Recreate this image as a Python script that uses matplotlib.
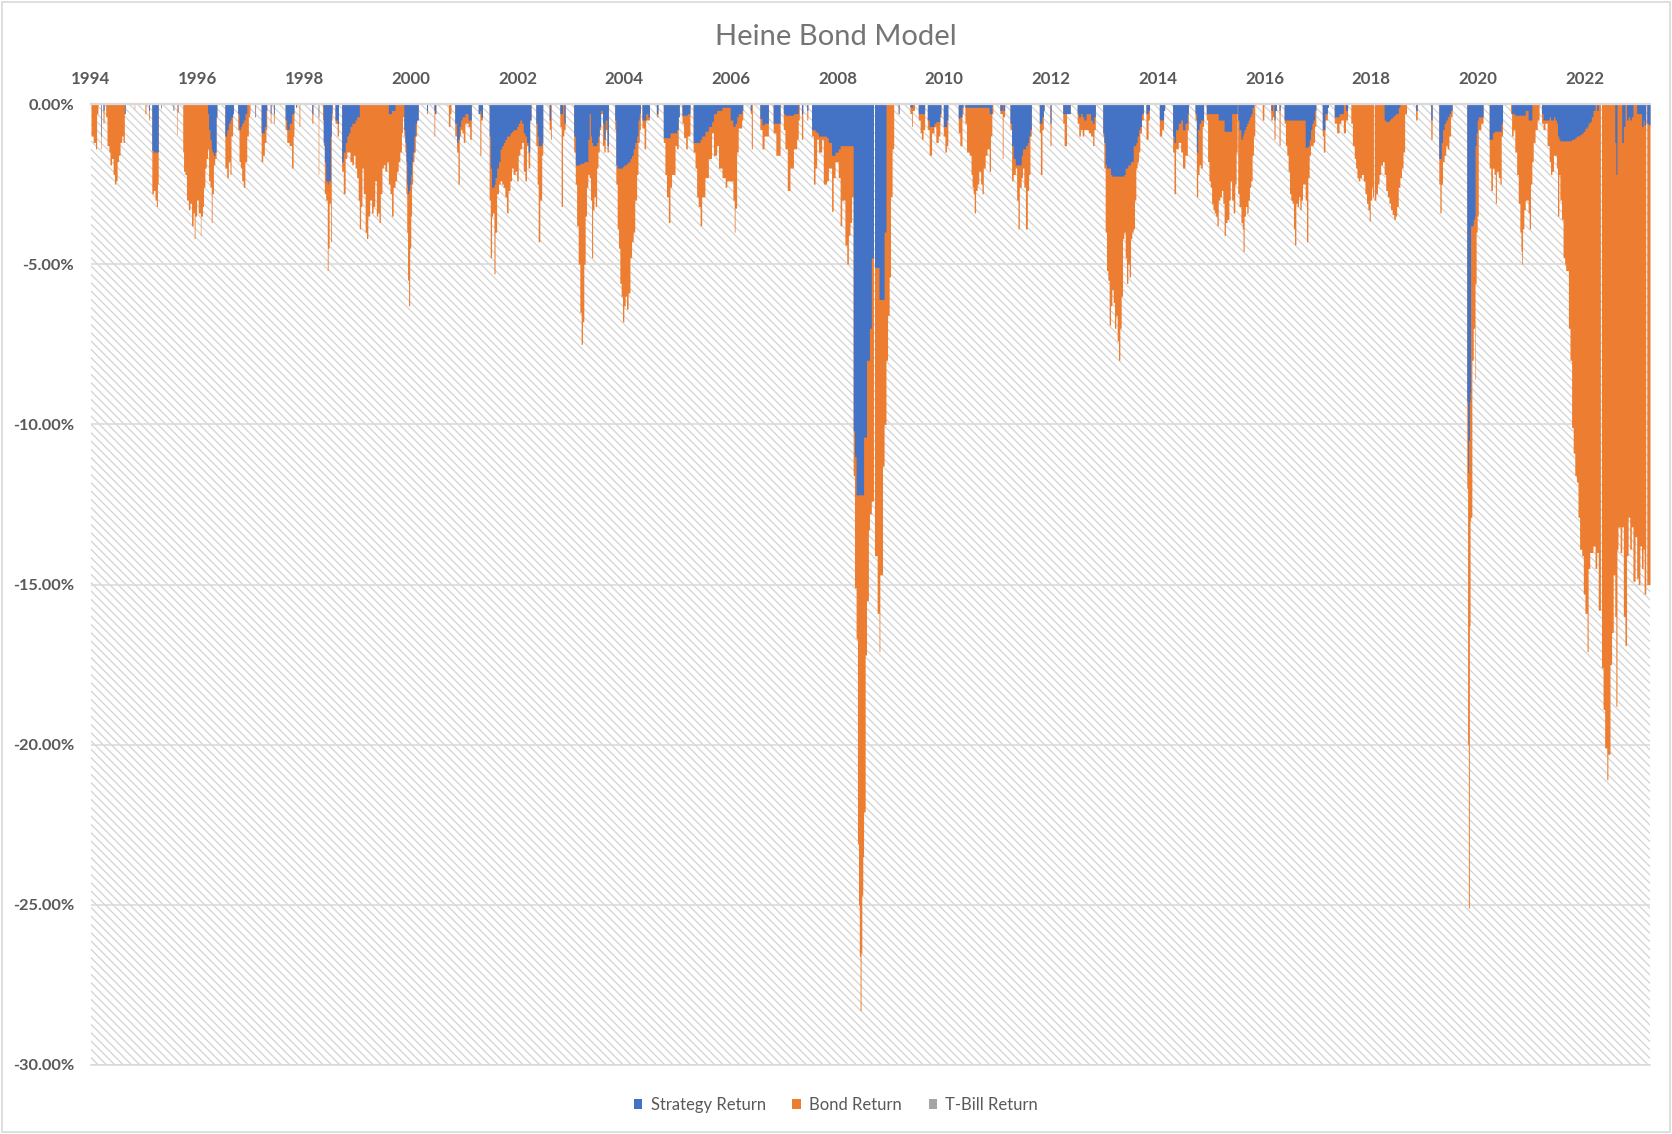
#!/usr/bin/env python3
"""Drawdown chart for the Heine Bond Model (strategy vs. bond vs. T-bill)."""

from __future__ import annotations

import matplotlib

matplotlib.use("Agg")

import matplotlib.pyplot as plt
import numpy as np
from matplotlib.patches import Patch, Rectangle
from matplotlib.ticker import FuncFormatter

# Drawdown depth in percent (positive numbers, plotted below zero),
# read off the reference chart. Rows of the three lists line up.
dates = [
    1994.000, 1994.040, 1994.085, 1994.105, 1994.130, 1994.185, 1994.195, 1994.225, 1994.245, 1994.275,
    1994.300, 1994.335, 1994.355, 1994.385, 1994.415, 1994.440, 1994.465, 1994.490, 1994.515, 1994.545,
    1994.575, 1994.600, 1994.625, 1994.640, 1994.810, 1994.820, 1995.010, 1995.030, 1995.080, 1995.095,
    1995.140, 1995.170, 1995.200, 1995.225, 1995.245, 1995.260, 1995.310, 1995.320, 1995.540, 1995.550,
    1995.610, 1995.620, 1995.630, 1995.720, 1995.735, 1995.760, 1995.790, 1995.825, 1995.855, 1995.885,
    1995.915, 1995.935, 1995.950, 1995.980, 1996.010, 1996.050, 1996.060, 1996.090, 1996.110, 1996.135,
    1996.160, 1996.185, 1996.205, 1996.230, 1996.255, 1996.270, 1996.295, 1996.320, 1996.345, 1996.360,
    1996.510, 1996.545, 1996.575, 1996.605, 1996.625, 1996.655, 1996.670, 1996.750, 1996.775, 1996.800,
    1996.825, 1996.855, 1996.885, 1996.920, 1996.950, 1996.970, 1996.980, 1996.990, 1997.075, 1997.085,
    1997.190, 1997.220, 1997.250, 1997.280, 1997.295, 1997.360, 1997.375, 1997.420, 1997.435, 1997.640,
    1997.670, 1997.715, 1997.760, 1997.790, 1997.805, 1997.835, 1997.850, 1997.900, 1997.915, 1998.140,
    1998.160, 1998.260, 1998.270, 1998.340, 1998.355, 1998.375, 1998.400, 1998.430, 1998.445, 1998.465,
    1998.490, 1998.505, 1998.520, 1998.575, 1998.615, 1998.640, 1998.700, 1998.730, 1998.765, 1998.795,
    1998.825, 1998.855, 1998.890, 1998.920, 1998.950, 1998.980, 1999.010, 1999.030, 1999.055, 1999.080,
    1999.105, 1999.140, 1999.165, 1999.190, 1999.225, 1999.260, 1999.290, 1999.320, 1999.350, 1999.375,
    1999.400, 1999.425, 1999.455, 1999.480, 1999.510, 1999.545, 1999.575, 1999.605, 1999.635, 1999.665,
    1999.700, 1999.730, 1999.760, 1999.790, 1999.820, 1999.840, 1999.865, 1999.885, 1999.905, 1999.920,
    1999.935, 1999.955, 1999.975, 1999.995, 2000.010, 2000.030, 2000.055, 2000.080, 2000.105, 2000.135,
    2000.290, 2000.310, 2000.430, 2000.445, 2000.465, 2000.700, 2000.730, 2000.750, 2000.820, 2000.855,
    2000.880, 2000.905, 2000.930, 2000.955, 2000.980, 2001.010, 2001.070, 2001.100, 2001.130, 2001.260,
    2001.290, 2001.310, 2001.340, 2001.465, 2001.485, 2001.510, 2001.530, 2001.555, 2001.575, 2001.605,
    2001.640, 2001.670, 2001.700, 2001.730, 2001.760, 2001.790, 2001.820, 2001.855, 2001.885, 2001.915,
    2001.950, 2001.980, 2002.010, 2002.040, 2002.075, 2002.105, 2002.135, 2002.165, 2002.195, 2002.225,
    2002.250, 2002.340, 2002.365, 2002.385, 2002.415, 2002.450, 2002.470, 2002.590, 2002.615, 2002.630,
    2002.790, 2002.815, 2002.840, 2002.865, 2002.890, 2003.050, 2003.080, 2003.105, 2003.135, 2003.165,
    2003.190, 2003.215, 2003.240, 2003.265, 2003.290, 2003.315, 2003.340, 2003.365, 2003.385, 2003.405,
    2003.430, 2003.455, 2003.480, 2003.505, 2003.530, 2003.555, 2003.590, 2003.615, 2003.640, 2003.675,
    2003.700, 2003.820, 2003.840, 2003.865, 2003.890, 2003.915, 2003.940, 2003.965, 2003.990, 2004.015,
    2004.040, 2004.070, 2004.105, 2004.135, 2004.165, 2004.195, 2004.230, 2004.255, 2004.280, 2004.300,
    2004.330, 2004.370, 2004.400, 2004.440, 2004.470, 2004.600, 2004.630, 2004.730, 2004.760, 2004.790,
    2004.825, 2004.855, 2004.885, 2004.950, 2004.980, 2005.010, 2005.030, 2005.080, 2005.110, 2005.150,
    2005.180, 2005.230, 2005.290, 2005.325, 2005.355, 2005.385, 2005.420, 2005.450, 2005.510, 2005.575,
    2005.635, 2005.670, 2005.730, 2005.765, 2005.830, 2005.890, 2005.920, 2005.985, 2006.035, 2006.060,
    2006.075, 2006.105, 2006.135, 2006.200, 2006.220, 2006.360, 2006.380, 2006.400, 2006.540, 2006.580,
    2006.620, 2006.700, 2006.790, 2006.840, 2006.920, 2006.980, 2007.010, 2007.055, 2007.105, 2007.170,
    2007.230, 2007.260, 2007.280, 2007.320, 2007.345, 2007.420, 2007.440, 2007.510, 2007.545, 2007.575,
    2007.605, 2007.640, 2007.700, 2007.730, 2007.790, 2007.825, 2007.885, 2007.915, 2007.950, 2008.010,
    2008.045, 2008.075, 2008.135, 2008.170, 2008.200, 2008.230, 2008.260, 2008.290, 2008.315, 2008.345,
    2008.370, 2008.390, 2008.405, 2008.420, 2008.438, 2008.452, 2008.470, 2008.485, 2008.515, 2008.540,
    2008.575, 2008.595, 2008.630, 2008.670, 2008.690, 2008.740, 2008.775, 2008.790, 2008.840, 2008.870,
    2008.905, 2008.935, 2008.965, 2008.990, 2009.020, 2009.050, 2009.135, 2009.150, 2009.354, 2009.385,
    2009.400, 2009.440, 2009.510, 2009.545, 2009.570, 2009.600, 2009.630, 2009.680, 2009.715, 2009.760,
    2009.805, 2009.840, 2009.885, 2009.915, 2009.935, 2009.980, 2010.010, 2010.040, 2010.065, 2010.260,
    2010.290, 2010.330, 2010.350, 2010.385, 2010.415, 2010.465, 2010.500, 2010.520, 2010.540, 2010.560,
    2010.585, 2010.615, 2010.645, 2010.680, 2010.705, 2010.730, 2010.765, 2010.800, 2010.840, 2010.865,
    2010.890, 2010.910, 2011.040, 2011.085, 2011.100, 2011.130, 2011.230, 2011.260, 2011.290, 2011.330,
    2011.355, 2011.380, 2011.405, 2011.440, 2011.465, 2011.490, 2011.520, 2011.555, 2011.580, 2011.605,
    2011.630, 2011.780, 2011.800, 2011.830, 2011.855, 2011.870, 2011.980, 2012.000, 2012.220, 2012.245,
    2012.290, 2012.360, 2012.490, 2012.520, 2012.550, 2012.585, 2012.615, 2012.655, 2012.700, 2012.740,
    2012.780, 2012.805, 2012.830, 2012.970, 2012.990, 2013.015, 2013.040, 2013.065, 2013.090, 2013.115,
    2013.140, 2013.165, 2013.190, 2013.215, 2013.240, 2013.265, 2013.290, 2013.315, 2013.340, 2013.365,
    2013.390, 2013.415, 2013.440, 2013.465, 2013.490, 2013.515, 2013.540, 2013.565, 2013.590, 2013.615,
    2013.640, 2013.665, 2013.695, 2013.730, 2013.780, 2013.820, 2013.845, 2014.030, 2014.075, 2014.110,
    2014.130, 2014.280, 2014.305, 2014.335, 2014.385, 2014.430, 2014.465, 2014.510, 2014.555, 2014.575,
    2014.700, 2014.725, 2014.750, 2014.775, 2014.805, 2014.835, 2014.860, 2014.910, 2014.935, 2014.960,
    2014.985, 2015.010, 2015.035, 2015.060, 2015.085, 2015.110, 2015.135, 2015.165, 2015.195, 2015.220,
    2015.245, 2015.270, 2015.300, 2015.335, 2015.360, 2015.385, 2015.415, 2015.445, 2015.470, 2015.490,
    2015.500, 2015.525, 2015.560, 2015.585, 2015.600, 2015.620, 2015.645, 2015.670, 2015.695, 2015.720,
    2015.745, 2015.770, 2015.795, 2015.820, 2015.960, 2015.990, 2016.120, 2016.150, 2016.180, 2016.200,
    2016.225, 2016.275, 2016.295, 2016.370, 2016.395, 2016.420, 2016.445, 2016.470, 2016.495, 2016.520,
    2016.545, 2016.565, 2016.590, 2016.615, 2016.640, 2016.665, 2016.690, 2016.715, 2016.740, 2016.765,
    2016.790, 2016.815, 2016.840, 2016.865, 2016.890, 2016.915, 2016.940, 2016.965, 2017.085, 2017.105,
    2017.135, 2017.180, 2017.200, 2017.310, 2017.355, 2017.400, 2017.435, 2017.480, 2017.520, 2017.560,
    2017.620, 2017.650, 2017.685, 2017.710, 2017.735, 2017.760, 2017.790, 2017.820, 2017.855, 2017.885,
    2017.915, 2017.940, 2017.965, 2017.985, 2018.010, 2018.025, 2018.045, 2018.060, 2018.090, 2018.120,
    2018.150, 2018.180, 2018.215, 2018.245, 2018.275, 2018.305, 2018.335, 2018.365, 2018.395, 2018.425,
    2018.455, 2018.480, 2018.510, 2018.540, 2018.570, 2018.600, 2018.630, 2018.665, 2018.835, 2018.865,
    2019.120, 2019.145, 2019.270, 2019.290, 2019.315, 2019.340, 2019.370, 2019.400, 2019.430, 2019.460,
    2019.490, 2019.520, 2019.795, 2019.810, 2019.825, 2019.843, 2019.856, 2019.866, 2019.890, 2019.916,
    2019.940, 2019.950, 2019.970, 2019.990, 2020.010, 2020.060, 2020.100, 2020.215, 2020.245, 2020.275,
    2020.305, 2020.330, 2020.350, 2020.385, 2020.415, 2020.440, 2020.465, 2020.615, 2020.635, 2020.665,
    2020.695, 2020.730, 2020.760, 2020.790, 2020.810, 2020.825, 2020.840, 2020.865, 2020.890, 2020.915,
    2020.945, 2020.965, 2020.990, 2021.015, 2021.040, 2021.075, 2021.115, 2021.150, 2021.195, 2021.225,
    2021.260, 2021.300, 2021.340, 2021.365, 2021.390, 2021.420, 2021.450, 2021.475, 2021.496, 2021.520,
    2021.540, 2021.570, 2021.600, 2021.630, 2021.650, 2021.700, 2021.730, 2021.760, 2021.790, 2021.820,
    2021.850, 2021.880, 2021.910, 2021.950, 2021.980, 2022.010, 2022.050, 2022.070, 2022.100, 2022.130,
    2022.160, 2022.200, 2022.230, 2022.260, 2022.300, 2022.320, 2022.350, 2022.380, 2022.420, 2022.440,
    2022.480, 2022.510, 2022.540, 2022.570, 2022.590, 2022.610, 2022.630, 2022.670, 2022.700, 2022.730,
    2022.760, 2022.790, 2022.820, 2022.850, 2022.880, 2022.910, 2022.950, 2022.980, 2023.010, 2023.040,
    2023.070, 2023.100, 2023.120, 2023.150, 2023.170, 2023.200, 2023.230,
]

strategy_dd = [
    0, 0, 0, 0, 0, 1.0, 0, 0.2, 0, 0,
    0, 0, 0, 0, 0, 0, 0, 0, 0, 0,
    0, 0, 0.3, 0, 0, 0, 0, 0, 0.2, 0,
    1.45, 1.5, 1.5, 1.5, 1.5, 0, 0.1, 0, 0.2, 0,
    0, 0.25, 0, 0, 0, 0, 0, 0, 0, 0,
    0, 0, 0, 0, 0, 0, 0, 0, 0, 0,
    0, 0.3, 0.8, 1.1, 1.4, 1.5, 1.6, 1.5, 0.4, 0,
    1.0, 0.8, 0.6, 0.5, 0.4, 0.3, 0, 0.3, 0.8, 0.7,
    0.6, 0.5, 0.3, 0, 0, 0, 0, 0, 0.4, 0,
    0.9, 0.9, 0.7, 0.2, 0, 0.3, 0, 0.3, 0, 0.5,
    0.8, 0.6, 0.3, 0.3, 0, 0.1, 0, 0, 0, 0.3,
    0, 0.4, 0, 0, 1.2, 1.8, 2.4, 2.5, 2.4, 2.4,
    1.0, 0.3, 0, 0.5, 0.6, 0, 1.8, 1.5, 1.2, 1.0,
    0.9, 0.7, 0.6, 0.6, 0.5, 0.4, 0.4, 0, 0, 0,
    0, 0, 0, 0, 0, 0, 0, 0, 0, 0,
    0, 0, 0, 0, 0, 0, 0.3, 0.3, 0.2, 0.2,
    0, 0, 0, 0, 0, 0, 0.8, 1.2, 1.8, 2.5,
    2.8, 2.7, 2.5, 2.2, 1.8, 1.5, 1.0, 0.6, 0.5, 0,
    0.2, 0, 0.2, 0.3, 0, 0, 0, 0, 0.6, 1.2,
    1.1, 0.7, 0.5, 0.4, 0.4, 0.3, 0.5, 0.5, 0, 0.3,
    0.2, 0.4, 0, 1.0, 2.0, 2.6, 2.6, 2.5, 2.3, 2.0,
    1.8, 1.4, 1.3, 1.2, 1.1, 1.0, 1.0, 0.9, 0.85, 0.8,
    0.8, 0.7, 0.6, 0.5, 0.6, 0.9, 1.0, 1.2, 1.5, 0.5,
    0, 0.6, 1.0, 1.3, 1.3, 1.2, 0, 0.5, 0, 0,
    0.3, 0.3, 0, 0.6, 0, 1.0, 1.9, 1.9, 1.9, 1.85,
    1.85, 1.85, 1.8, 1.8, 1.8, 1.1, 0.3, 1.0, 1.2, 1.3,
    1.3, 1.3, 1.2, 1.0, 0.7, 0.2, 0.6, 1.1, 0.5, 1.3,
    0, 0.5, 1.9, 2.0, 2.0, 2.0, 2.0, 1.95, 1.9, 1.9,
    1.85, 1.8, 1.7, 1.6, 1.4, 1.2, 1.0, 0.5, 0.3, 0,
    0.5, 0.5, 0.3, 0.4, 0, 0.3, 0, 1.05, 1.05, 1.05,
    1.05, 0.9, 0.9, 0.9, 0.8, 0.4, 0, 0.35, 0.35, 0.35,
    0.3, 0, 1.2, 1.2, 1.2, 1.2, 1.1, 1.0, 0.85, 0.7,
    0.55, 0.3, 0.2, 0.2, 0.1, 0.1, 0.1, 0.5, 0.7, 0.7,
    0.6, 0.4, 0.3, 0.2, 0, 0.2, 0, 0, 0.45, 0.65,
    0.6, 0, 0.6, 0.6, 0, 0.3, 0.35, 0.35, 0.35, 0.3,
    0.3, 0, 0, 0.3, 0, 0.2, 0, 0.8, 0.8, 0.85,
    0.9, 1.0, 1.0, 1.0, 1.05, 1.2, 1.6, 1.6, 1.5, 1.4,
    1.3, 1.3, 1.3, 1.3, 1.3, 1.3, 1.3, 10.2, 11.0, 12.2,
    12.2, 12.2, 12.2, 12.2, 12.2, 12.2, 12.2, 10.4, 10.4, 8.0,
    8.0, 7.0, 4.8, 0, 5.1, 5.1, 6.1, 6.1, 6.1, 4.0,
    0, 0, 0, 0, 0, 0, 0.3, 0, 0.1, 0.1,
    0, 0, 0.3, 0.3, 0.3, 0.3, 0, 0.5, 0.7, 0.7,
    0.6, 0.55, 0.55, 0.3, 0, 0.7, 0.7, 0.5, 0, 0.45,
    0.4, 0.1, 0, 0.1, 0.1, 0.1, 0.1, 0.1, 0.1, 0.1,
    0.1, 0.1, 0.1, 0.1, 0.1, 0.1, 0.1, 0.1, 0.3, 0.3,
    0, 0, 0.2, 0, 0.2, 0, 0.6, 1.3, 1.7, 1.9,
    1.9, 1.9, 1.9, 1.6, 1.4, 1.4, 1.3, 1.2, 1.0, 0.8,
    0, 0.6, 0.6, 0.4, 0.2, 0, 0.6, 0, 0.3, 0.3,
    0.3, 0, 0.3, 0.4, 0.3, 0.4, 0.5, 0.3, 0.3, 0.5,
    0.6, 0.4, 0, 0.9, 1.2, 1.9, 2.0, 2.0, 2.0, 2.2,
    2.25, 2.25, 2.25, 2.25, 2.25, 2.25, 2.25, 2.25, 2.25, 2.2,
    2.0, 2.0, 1.9, 1.9, 1.8, 1.8, 1.3, 1.3, 1.2, 1.0,
    0.8, 0.7, 0.3, 0, 0.3, 0.2, 0, 0.5, 0.5, 0.2,
    0, 1.0, 1.2, 0.8, 0.6, 0.5, 0.8, 0.6, 0.3, 0,
    0.3, 1.5, 0.8, 0.6, 0.5, 0.5, 0, 0.3, 0.3, 0.3,
    0.3, 0.3, 0.3, 0.3, 0.3, 0.3, 0.5, 0.5, 0.5, 0.5,
    0.85, 0.85, 0.85, 0.85, 0.85, 0.3, 0.3, 0.3, 0.3, 0,
    0.5, 0.8, 1.1, 1.0, 0.9, 0.8, 0.7, 0.6, 0.5, 0.4,
    0.3, 0.1, 0, 0, 0, 0, 0.2, 0, 0.5, 0.2,
    0, 0.2, 0, 0.5, 0.5, 0.5, 0.5, 0.5, 0.5, 0.5,
    0.5, 0.5, 0.5, 0.5, 0.5, 0.5, 0.5, 0.5, 0.5, 1.35,
    1.35, 1.3, 1.1, 0.8, 0.6, 0.5, 0.2, 0, 0.8, 0.8,
    0.3, 0.1, 0, 0.4, 0.4, 0.3, 0.3, 0, 0.2, 0,
    0, 0, 0, 0, 0, 0, 0, 0, 0, 0,
    0, 0, 0, 0, 0, 0, 0, 0, 0, 0,
    0, 0, 0, 0.5, 0.55, 0.55, 0.5, 0.45, 0.4, 0.35,
    0.3, 0.3, 0.1, 0, 0, 0, 0, 0, 0.2, 0,
    0.5, 0, 1.7, 1.7, 1.2, 0.8, 0.6, 0.5, 0.4, 0.3,
    0.2, 0, 9.3, 11.5, 10.5, 9.3, 9.0, 3.8, 3.8, 3.6,
    3.5, 1.3, 0.9, 0.5, 0.4, 0.4, 0, 1.1, 1.1, 0.9,
    0.85, 0.85, 0.85, 0.85, 0.85, 0.6, 0, 0, 0.3, 0.3,
    0.35, 0.35, 0.35, 0.35, 0.35, 0.35, 0.35, 0.35, 0.2, 0.2,
    0.5, 0.5, 0.5, 0, 0, 0, 0, 0, 0.3, 0.5,
    0.5, 0.5, 0.4, 0.5, 0.5, 0.4, 0.5, 0.6, 1.0, 1.1,
    1.15, 1.15, 1.15, 1.15, 1.15, 1.15, 1.15, 1.1, 1.1, 1.05,
    1.0, 1.0, 0.95, 0.9, 0.85, 0.75, 0.7, 0.6, 0.55, 0.4,
    0.2, 0, 0.2, 0, 0, 0, 0, 0, 0, 0,
    0, 0, 0, 1.2, 2.2, 0, 0, 0, 1.2, 0.7,
    0, 0.5, 0.4, 0.5, 0.4, 0, 0, 0.3, 0.3, 0.3,
    0.7, 0.5, 0.65, 0, 0.6, 0.65, 0.65,
]

bond_dd = [
    1.0, 1.2, 1.4, 0.3, 0, 1.4, 0, 0.6, 0, 0.4,
    1.3, 1.5, 1.9, 1.7, 2.2, 2.5, 2.4, 1.8, 1.6, 1.2,
    1.0, 1.2, 0.3, 0, 0.15, 0, 0.3, 0, 0.5, 0,
    2.8, 2.7, 3.0, 3.2, 2.5, 0, 0.15, 0, 0.2, 0,
    0.95, 0.25, 0, 1.5, 2.1, 2.2, 3.0, 3.3, 3.1, 3.8,
    3.4, 4.2, 3.5, 3.0, 3.4, 4.1, 3.5, 3.2, 2.6, 2.0,
    1.7, 1.4, 2.4, 2.6, 3.7, 2.8, 1.9, 1.7, 0.4, 0,
    2.0, 2.3, 1.8, 2.2, 1.0, 0.3, 0, 0.8, 1.8, 2.0,
    2.4, 2.6, 1.8, 1.0, 0.4, 0, 0.3, 0, 0.4, 0,
    1.8, 1.6, 1.2, 0.8, 0, 0.6, 0, 0.6, 0, 0.8,
    1.2, 1.3, 2.0, 1.0, 0, 0.1, 0, 0.7, 0, 0.6,
    0, 2.2, 0, 0.5, 1.3, 2.8, 3.0, 5.2, 4.5, 3.1,
    4.3, 0.5, 0, 0.6, 1.0, 0, 2.1, 2.8, 1.7, 1.5,
    1.5, 1.8, 1.9, 1.6, 2.0, 2.3, 3.0, 3.9, 3.2, 2.0,
    2.8, 4.0, 4.2, 3.5, 3.0, 3.4, 3.2, 2.4, 3.5, 3.4,
    3.7, 2.8, 2.0, 1.9, 2.1, 1.8, 2.5, 2.8, 3.5, 2.6,
    2.4, 2.1, 1.8, 1.5, 0.9, 0.4, 1.0, 1.5, 2.8, 4.0,
    5.5, 6.3, 4.5, 3.5, 2.5, 1.8, 1.5, 1.0, 0.5, 0,
    0.3, 0, 1.0, 0.3, 0, 0.7, 0.3, 0, 1.0, 1.5,
    2.5, 1.0, 0.8, 0.9, 1.2, 0.6, 0.7, 1.1, 0, 0.3,
    1.6, 0.5, 0, 3.0, 4.8, 3.5, 3.4, 5.3, 4.0, 2.8,
    2.5, 2.4, 2.5, 2.6, 2.9, 3.4, 2.7, 2.4, 2.0, 2.2,
    2.1, 2.4, 1.6, 1.4, 1.2, 2.1, 2.4, 1.3, 2.0, 0.5,
    0, 1.3, 2.5, 4.3, 3.0, 1.6, 0, 0.8, 1.1, 0,
    0.7, 3.2, 1.0, 0.8, 0, 1.5, 2.5, 3.8, 5.0, 6.5,
    7.5, 6.8, 5.0, 3.5, 2.6, 2.2, 2.3, 3.0, 4.8, 3.3,
    2.9, 3.2, 2.0, 1.5, 0.8, 0.3, 1.3, 1.5, 0.8, 1.5,
    0, 0.8, 2.5, 3.9, 4.5, 5.6, 6.0, 6.8, 6.3, 6.0,
    6.4, 5.9, 4.8, 4.3, 4.0, 3.0, 2.2, 1.2, 0.8, 0,
    0.75, 1.4, 0.5, 0.5, 0, 0.4, 0, 1.2, 2.2, 2.9,
    3.7, 2.6, 2.2, 1.3, 1.4, 0.4, 0, 0.6, 1.05, 1.4,
    1.0, 0, 1.5, 2.0, 2.9, 3.2, 3.8, 2.9, 2.3, 1.7,
    0.9, 1.6, 1.3, 2.0, 2.3, 2.6, 2.4, 2.4, 3.0, 4.0,
    3.25, 1.5, 0.75, 0.5, 0, 0.3, 1.4, 0, 0.8, 1.4,
    1.0, 0, 0.9, 1.6, 0, 0.8, 1.4, 2.7, 2.0, 1.4,
    1.1, 0.5, 0, 1.1, 0, 0.5, 0, 1.0, 2.5, 2.0,
    1.1, 1.5, 1.1, 2.5, 2.4, 2.0, 3.35, 2.3, 1.8, 2.3,
    3.8, 3.0, 4.4, 5.0, 4.1, 3.7, 2.9, 11.6, 15.1, 16.7,
    23.1, 25.0, 26.6, 28.3, 26.5, 24.7, 23.5, 22.1, 17.2, 15.5,
    13.3, 12.8, 12.4, 0, 14.1, 15.9, 17.1, 14.7, 11.3, 10.0,
    8.0, 6.6, 5.4, 2.9, 1.4, 0, 0.3, 0, 0.3, 0.7,
    0.2, 0, 0.5, 0.9, 1.1, 0.8, 0, 0.8, 1.6, 0.9,
    0.7, 1.2, 1.0, 0.4, 0, 1.0, 1.5, 1.3, 0, 0.9,
    1.3, 0.3, 0, 0.6, 1.5, 1.6, 2.2, 2.6, 2.8, 3.4,
    2.7, 2.5, 2.1, 2.5, 2.8, 2.0, 1.6, 1.4, 2.1, 1.0,
    0.3, 0, 0.3, 1.7, 0.4, 0, 0.8, 2.4, 2.2, 2.0,
    3.0, 3.9, 2.6, 2.3, 2.0, 2.6, 3.9, 2.7, 2.2, 1.0,
    0, 0.9, 2.2, 0.8, 0.2, 0, 1.3, 0, 0.6, 1.3,
    0.3, 0, 0.6, 1.0, 0.8, 1.0, 0.8, 0.8, 0.9, 1.0,
    1.3, 0.8, 0, 1.0, 2.0, 4.0, 5.2, 5.5, 6.9, 6.3,
    5.8, 6.2, 7.0, 6.6, 7.4, 8.0, 7.0, 6.0, 4.2, 4.0,
    4.8, 5.6, 5.0, 5.4, 4.2, 4.0, 3.9, 3.0, 2.0, 1.8,
    1.5, 0.9, 0.5, 0, 1.1, 0.5, 0, 1.0, 0.8, 0.2,
    0, 1.5, 2.8, 1.4, 1.2, 1.5, 2.0, 1.6, 0.8, 0,
    0.5, 2.9, 2.2, 1.9, 2.0, 0.7, 0, 0.5, 1.8, 2.4,
    2.6, 3.1, 3.3, 3.4, 3.5, 3.8, 3.0, 2.9, 2.7, 3.1,
    4.1, 3.7, 3.6, 3.0, 2.4, 3.0, 3.4, 2.5, 1.5, 0,
    2.8, 3.2, 3.7, 3.9, 4.6, 3.5, 3.2, 3.4, 3.0, 2.6,
    2.4, 1.6, 1.0, 0, 0.5, 0, 0.5, 0.4, 1.1, 0.2,
    0, 1.3, 0, 0.6, 1.3, 1.6, 2.1, 2.8, 3.0, 3.1,
    3.9, 4.4, 3.1, 3.2, 2.9, 3.3, 3.0, 2.5, 2.5, 3.0,
    4.3, 2.3, 1.6, 1.3, 1.3, 1.2, 0.7, 0, 1.0, 1.5,
    0.5, 0.1, 0, 0.6, 0.9, 0.6, 0.5, 0.9, 0.5, 0,
    0.6, 1.3, 1.7, 2.0, 2.3, 2.4, 2.3, 2.2, 2.4, 2.8,
    3.1, 3.3, 3.65, 3.0, 2.6, 2.9, 0, 3.0, 2.8, 2.5,
    2.2, 1.9, 1.8, 2.2, 2.7, 2.9, 3.1, 3.3, 3.45, 3.6,
    3.5, 3.2, 2.6, 2.3, 2.0, 1.5, 0.3, 0, 0.5, 0,
    1.1, 0, 2.5, 3.4, 2.5, 1.8, 1.6, 1.3, 1.4, 1.0,
    0.4, 0, 12.0, 20.0, 25.1, 16.3, 13.0, 12.9, 8.0, 7.0,
    8.6, 5.6, 4.0, 3.5, 0.8, 0.6, 0, 2.0, 2.7, 2.0,
    2.2, 3.1, 2.1, 2.3, 2.5, 1.0, 0, 0.3, 1.0, 0.8,
    1.5, 2.2, 3.1, 4.0, 4.6, 5.0, 3.9, 3.3, 3.0, 3.0,
    3.4, 3.9, 2.5, 1.8, 1.2, 0.8, 0.5, 0, 0.6, 0.8,
    0.6, 1.3, 1.8, 2.2, 2.1, 1.6, 1.6, 2.0, 3.5, 2.2,
    3.0, 3.6, 4.8, 5.0, 5.2, 7.0, 8.0, 10.1, 10.9, 11.6,
    11.8, 12.9, 13.9, 14.1, 15.3, 15.9, 17.1, 14.5, 14.0, 14.0,
    13.8, 14.5, 14.0, 15.8, 0, 17.6, 18.9, 20.1, 21.1, 20.3,
    17.5, 16.5, 14.7, 16.0, 18.8, 13.9, 13.2, 14.0, 13.2, 16.0,
    16.9, 14.1, 12.9, 13.9, 13.2, 14.9, 13.5, 14.8, 15.0, 13.8,
    14.5, 13.9, 15.3, 0, 15.0, 15.0, 15.0,
]

# T-bill drawdowns never dip visibly below zero on this scale.
tbill_dates = [1994.000, 2023.230]
tbill_dd = [0.0, 0.0]

series_labels = ["Strategy Return", "Bond Return", "T-Bill Return"]
year_ticks = list(range(1994, 2023, 2))
pct_ticks = [-30, -25, -20, -15, -10, -5, 0]

BLUE = "#4472C4"
ORANGE = "#ED7D31"
GRAY = "#A5A5A5"
TEXT = "#595959"
GRID = "#D9D9D9"


def main() -> None:
    assert len(dates) == len(strategy_dd) == len(bond_dd)

    plt.rcParams["font.family"] = ["Lato", "DejaVu Sans"]
    plt.rcParams["hatch.linewidth"] = 0.9

    x = np.asarray(dates)
    strat = -np.asarray(strategy_dd)
    bond = -np.asarray(bond_dd)

    W, H = 1672, 1134
    fig = plt.figure(figsize=(W / 100, H / 100), dpi=100)
    left, right, top, bottom = 91, 1650, 104, 1065
    ax = fig.add_axes([left / W, 1 - bottom / H, (right - left) / W, (bottom - top) / H])

    # patterned plot area (Excel "wide downward diagonal")
    ax.add_patch(
        Rectangle((0, 0), 1, 1, transform=ax.transAxes, facecolor="white",
                  edgecolor="#D2D2D2", hatch="\\\\\\\\", linewidth=0, zorder=0.1)
    )

    ax.fill_between(tbill_dates, 0, -np.asarray(tbill_dd), step="post",
                    color=GRAY, linewidth=0, zorder=2)
    ax.fill_between(x, 0, bond, step="post", color=ORANGE, linewidth=0, zorder=3)
    ax.fill_between(x, 0, strat, step="post", color=BLUE, linewidth=0, zorder=4)

    ax.set_xlim(1994.0, 2023.23)
    ax.set_ylim(-30, 0)

    ax.xaxis.tick_top()
    ax.set_xticks(year_ticks)
    ax.set_xticklabels([str(y) for y in year_ticks])
    ax.set_yticks(pct_ticks)
    ax.yaxis.set_major_formatter(FuncFormatter(lambda v, _: f"{v:.2f}%"))
    ax.tick_params(axis="x", length=0, pad=12, labelsize=12.2, labelcolor=TEXT)
    ax.tick_params(axis="y", length=0, pad=12, labelsize=11.8, labelcolor=TEXT)
    for lab in ax.get_xticklabels() + ax.get_yticklabels():
        lab.set_fontweight("bold")

    ax.set_axisbelow(True)
    ax.yaxis.grid(True, color=GRID, linewidth=1.1, zorder=0.5)
    ax.xaxis.grid(False)
    for side in ("left", "right"):
        ax.spines[side].set_visible(False)
    ax.spines["top"].set_color(GRID)
    ax.spines["top"].set_linewidth(1.6)
    ax.spines["top"].set_zorder(5)
    ax.spines["bottom"].set_color(GRID)
    ax.spines["bottom"].set_linewidth(1.1)

    fig.text(0.5, 1 - 37 / H, "Heine Bond Model", ha="center", va="center",
             fontsize=21, color="#757575")

    handles = [Patch(facecolor=c, edgecolor="none") for c in (BLUE, ORANGE, GRAY)]
    fig.legend(handles, series_labels, loc="center", bbox_to_anchor=(0.5, 1 - 1105 / H),
               ncol=3, frameon=False, fontsize=12, labelcolor=TEXT,
               handlelength=0.5, handleheight=0.5, handletextpad=0.5, columnspacing=1.6)

    fig.add_artist(Rectangle((0.0012, 0.0015), 0.9976, 0.997, transform=fig.transFigure,
                             fill=False, edgecolor=GRID, linewidth=1.2))

    fig.savefig("out.png", dpi=100)


if __name__ == "__main__":
    main()
